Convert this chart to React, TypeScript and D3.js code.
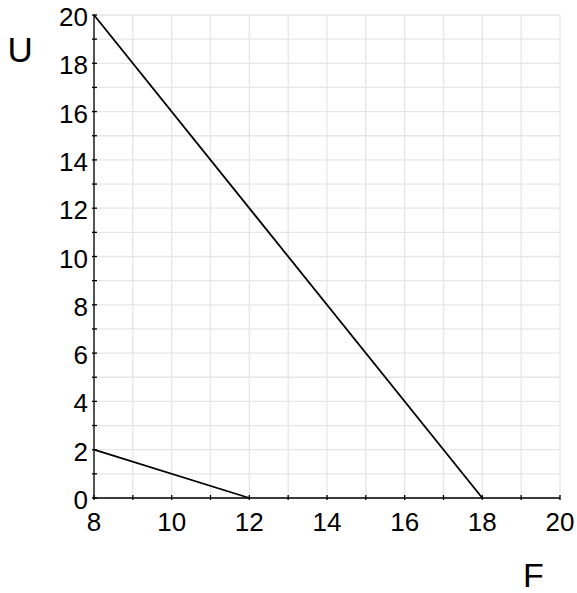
import React from 'react';
import * as d3 from 'd3';

// budget lines: F on x, U on y
const lineA = [
  { f: 8, u: 20 },
  { f: 18, u: 0 },
];
const lineB = [
  { f: 8, u: 2 },
  { f: 12, u: 0 },
];
const xDomain = [8, 20];
const yDomain = [0, 20];
const xLabels = [8, 10, 12, 14, 16, 18, 20];
const yLabels = [0, 2, 4, 6, 8, 10, 12, 14, 16, 18, 20];

const W = 577;
const H = 593;
const margin = { top: 15, right: 17, bottom: 95, left: 94 };
const font = '"Liberation Sans", Arial, Helvetica, sans-serif';

export default function App() {
  const x = d3.scaleLinear().domain(xDomain).range([margin.left, W - margin.right]);
  const y = d3.scaleLinear().domain(yDomain).range([H - margin.bottom, margin.top]);
  const line = d3
    .line<{ f: number; u: number }>()
    .x(d => x(d.f))
    .y(d => y(d.u));

  const xMinor = d3.range(xDomain[0], xDomain[1] + 1, 1);
  const yMinor = d3.range(yDomain[0], yDomain[1] + 1, 1);
  const x0 = x(xDomain[0]);
  const y0 = y(yDomain[0]);

  return (
    <svg
      width={W}
      height={H}
      style={{ position: 'absolute', left: 0, top: 0, background: '#fff' }}
      fontFamily={font}
    >
      {/* grid */}
      <g stroke="#e6e6e6" strokeWidth={1.3}>
        {xMinor.map(v => (
          <line key={'gx' + v} x1={x(v)} x2={x(v)} y1={y(yDomain[1])} y2={y0} />
        ))}
        {yMinor.map(v => (
          <line key={'gy' + v} x1={x0} x2={x(xDomain[1])} y1={y(v)} y2={y(v)} />
        ))}
      </g>

      {/* axes */}
      <g stroke="#000" strokeWidth={1.3}>
        <line x1={x0} x2={x(xDomain[1])} y1={y0} y2={y0} />
        <line x1={x0} x2={x0} y1={y0} y2={y(yDomain[1])} />
        {xMinor.map(v => (
          <line key={'tx' + v} x1={x(v)} x2={x(v)} y1={y0 - 3} y2={y0 + 2} />
        ))}
        {yMinor.map(v => (
          <line key={'ty' + v} x1={x0 - 2} x2={x0 + 3} y1={y(v)} y2={y(v)} />
        ))}
      </g>

      {/* tick labels */}
      <g fontSize={26} fill="#000">
        {xLabels.map(v => (
          <text key={'lx' + v} x={x(v)} y={y0 + 33} textAnchor="middle">
            {v}
          </text>
        ))}
        {yLabels.map(v => (
          <text key={'ly' + v} x={x0 - 6} y={y(v) + 11} textAnchor="end">
            {v}
          </text>
        ))}
      </g>

      {/* data lines */}
      <g fill="none" stroke="#000" strokeWidth={1.8}>
        <path d={line(lineA) || ''} />
        <path d={line(lineB) || ''} />
      </g>

      {/* axis titles */}
      <text x={7.5} y={61.5} fontSize={35} fill="#000">U</text>
      <text x={523} y={587} fontSize={34} fill="#000">F</text>
    </svg>
  );
}
